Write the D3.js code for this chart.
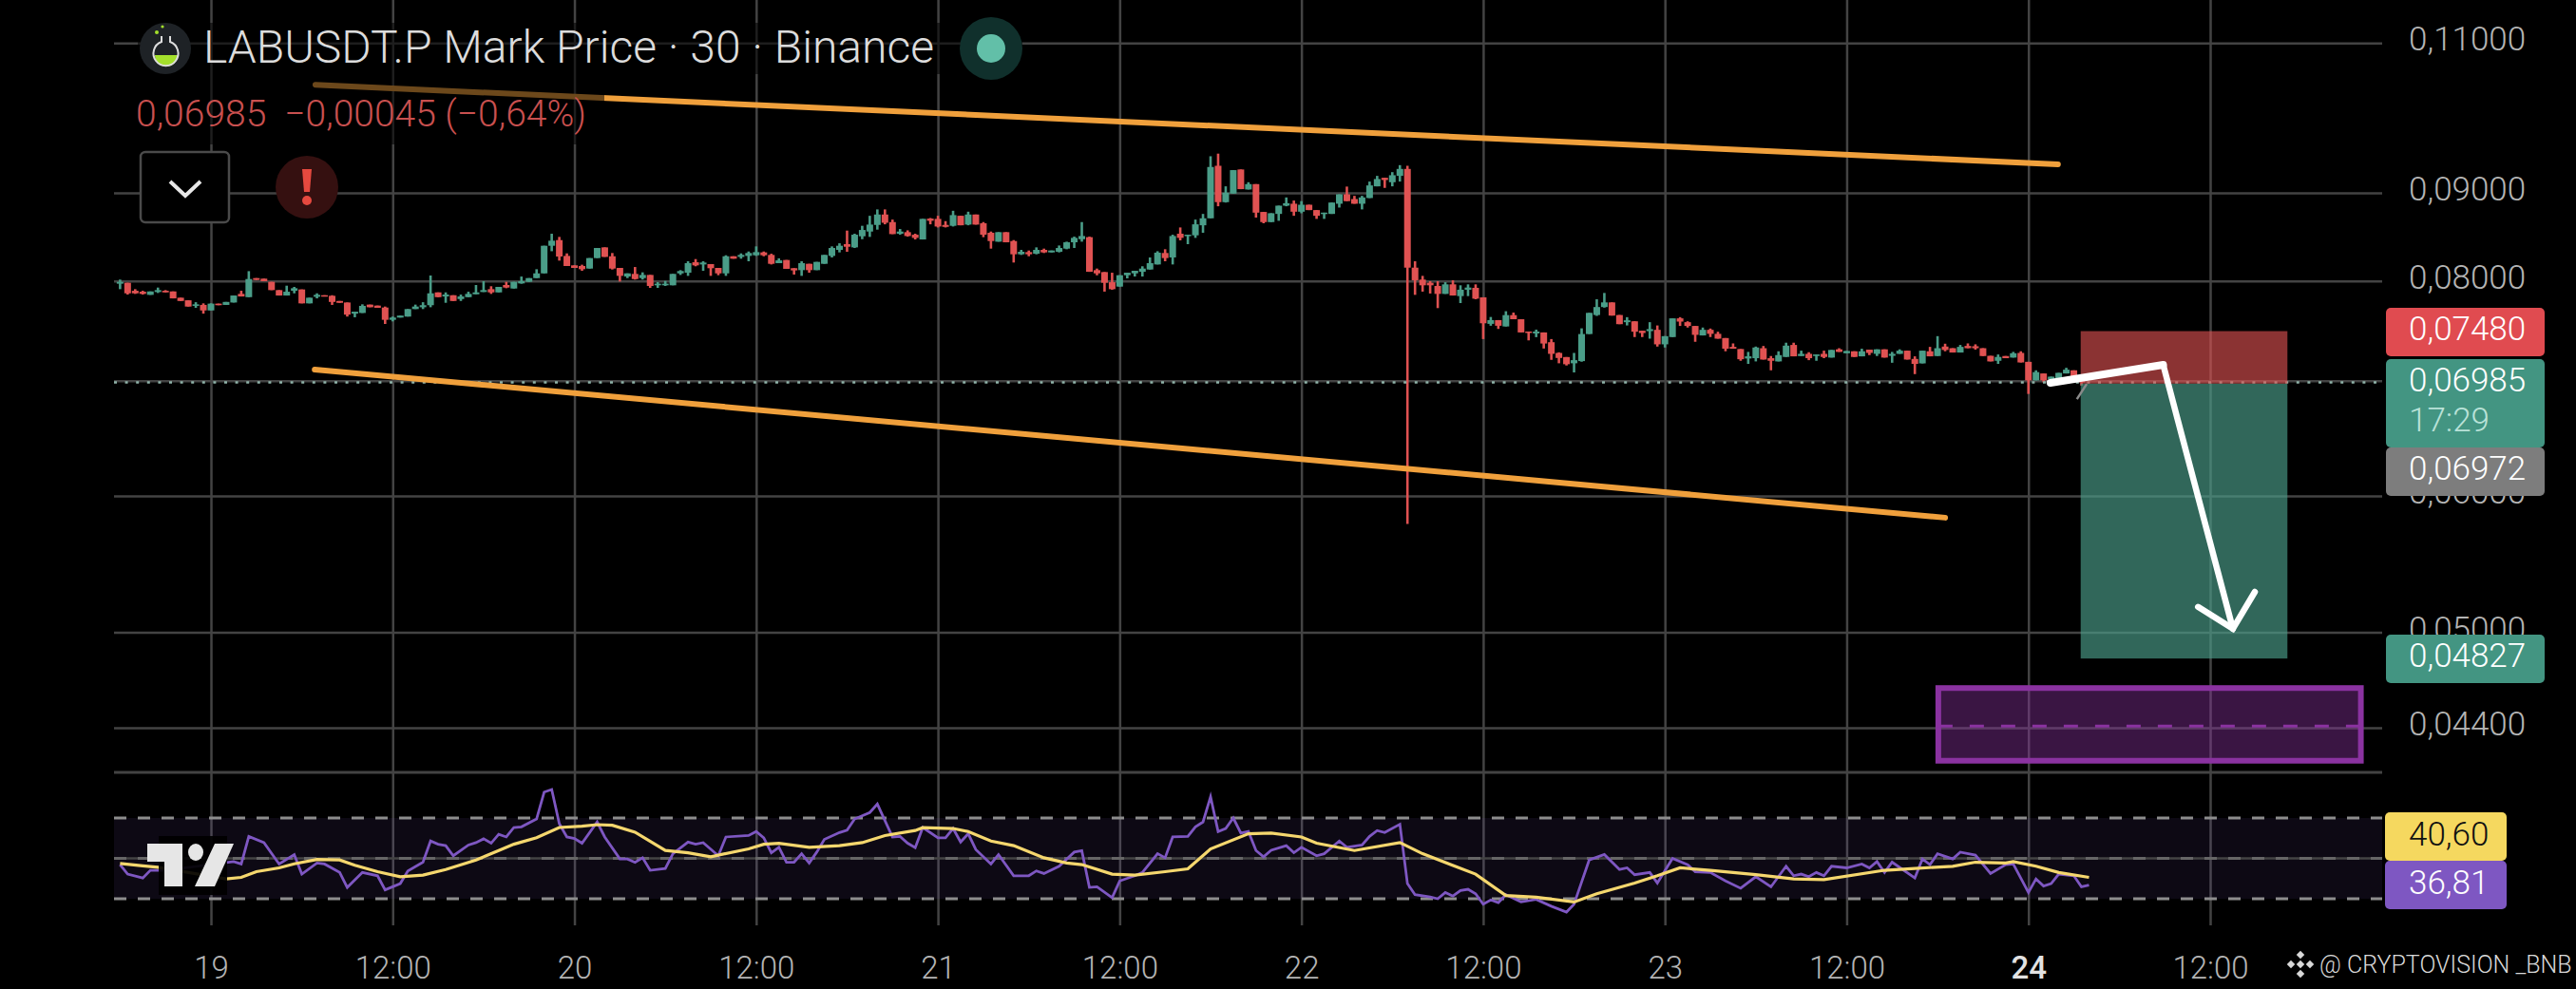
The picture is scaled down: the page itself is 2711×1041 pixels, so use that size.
<!DOCTYPE html>
<html>
<head>
<meta charset="utf-8">
<script src="https://cdn.jsdelivr.net/npm/d3@7"></script>
<style>
  html, body { margin: 0; padding: 0; background: #000; overflow: hidden; }
  svg { display: block; font-family: Roboto, sans-serif; }
</style>
</head>
<body>
<svg width="2711" height="1041"></svg>
<script>
// OHLC of the 30 minute bars, in units of 0.00001 USDT. Bar 0 opens on the 18th at 18:00
var opens = [
  7970,7980,7895,7885,7852,7882,7895,7888,7822,7795, 7737,7747,7690,7760,7747,7772,7862,7828,8030,8024,
  7990,7902,7845,7895,7909,7763,7832,7848,7842,7788, 7772,7657,7664,7750,7740,7720,7594,7617,7627,7704,
  7723,7744,7878,7835,7848,7808,7828,7858,7882,7912, 7878,7956,7919,7973,7990,8030,8081,8385,8449,8272,
  8168,8161,8133,8248,8367,8268,8140,8047,8075,8030, 8064,7953,7953,7953,8081,8088,8202,8178,8182,8140,
  8081,8268,8261,8272,8279,8311,8283,8192,8227,8137, 8116,8185,8116,8185,8272,8339,8403,8367,8492,8546,
  8622,8743,8655,8521,8539,8510,8456,8695,8692,8622, 8612,8728,8626,8743,8641,8532,8431,8539,8438,8290,
  8314,8296,8339,8311,8318,8353,8424,8459,8482,8116, 8095,7986,7939,8061,8081,8098,8123,8178,8304,8255,
  8521,8495,8503,8618,8699,9332,8889,8991,9286,9041, 9106,8773,8655,8750,8847,8870,8776,8858,8795,8750,
  8750,8870,8983,8926,8870,8938,9079,9183,9129,9207, 9293,8143,8014,7980,7946,7862,7963,7839,7906,7926,
  7826,7553,7591,7527,7642,7600,7476,7457,7467,7370, 7265,7225,7165,7186,7451,7643,7725,7773,7643,7570,
  7579,7484,7480,7493,7349,7421,7609,7570,7532,7437, 7493,7453,7411,7324,7303,7211,7214,7311,7214,7183,
  7226,7343,7235,7256,7235,7256,7220,7300,7262,7281, 7232,7297,7256,7300,7237,7256,7287,7207,7164,7281,
  7235,7327,7311,7269,7333,7330,7311,7237,7189,7235, 7220,7265,7179,7003,7068,7015,7023,7068,7098,7044
];
var closes = [
  7990,7868,7868,7862,7888,7902,7878,7815,7788,7730, 7753,7690,7760,7744,7778,7845,7835,8020,8010,7997,
  7902,7845,7885,7922,7763,7822,7852,7835,7778,7769, 7647,7677,7737,7723,7717,7594,7617,7637,7704,7730,
  7744,7868,7828,7855,7788,7835,7862,7878,7902,7878, 7936,7929,7990,7997,8030,8081,8385,8442,8265,8161,
  8140,8126,8248,8360,8261,8133,8054,8081,8020,8064, 7946,7970,7970,8075,8106,8192,8168,8199,8137,8081,
  8268,8241,8283,8304,8314,8279,8185,8223,8130,8113, 8192,8116,8206,8283,8360,8385,8374,8510,8564,8626,
  8743,8647,8517,8546,8495,8474,8692,8670,8604,8600, 8736,8618,8743,8626,8510,8438,8539,8424,8290,8318,
  8290,8339,8311,8332,8360,8424,8474,8495,8098,8081, 7980,7912,8061,8088,8109,8133,8192,8308,8248,8495,
  8474,8510,8629,8699,9317,8889,9002,9278,9045,9106, 8765,8655,8758,8847,8876,8776,8858,8795,8728,8765,
  8884,8983,8901,8870,8945,9090,9168,9156,9215,9293, 8143,8007,7953,7953,7862,7963,7845,7906,7929,7812,
  7559,7591,7534,7642,7600,7467,7464,7476,7357,7256, 7216,7156,7195,7451,7665,7725,7773,7637,7550,7589,
  7474,7461,7500,7349,7430,7609,7576,7532,7443,7493, 7453,7405,7306,7306,7204,7232,7318,7201,7189,7244,
  7336,7232,7256,7214,7250,7226,7294,7275,7284,7226, 7281,7265,7300,7220,7256,7287,7201,7159,7287,7232,
  7311,7294,7269,7324,7311,7311,7235,7183,7226,7214, 7262,7173,7003,7081,7003,7038,7074,7104,7038,6985
];
var highs = [
  8014,7980,7912,7895,7888,7929,7902,7888,7822,7795, 7775,7763,7763,7760,7778,7845,7895,8105,8030,8024,
  7990,7902,7949,7936,7909,7822,7868,7848,7848,7788, 7772,7677,7753,7750,7740,7730,7627,7637,7704,7750,
  7775,8058,7878,7878,7848,7855,7885,7956,7997,7943, 7936,7990,7990,8047,8030,8126,8385,8521,8485,8300,
  8168,8175,8248,8360,8367,8304,8140,8081,8150,8092, 8064,7987,8000,8075,8116,8213,8237,8213,8182,8140,
  8279,8268,8300,8321,8378,8321,8296,8245,8227,8137, 8213,8185,8206,8283,8378,8413,8557,8521,8612,8728,
  8803,8803,8684,8575,8560,8521,8692,8702,8728,8666, 8787,8728,8776,8743,8655,8546,8539,8539,8449,8339,
  8332,8367,8353,8332,8388,8431,8488,8655,8488,8133, 8095,8088,8061,8088,8109,8158,8255,8324,8346,8510,
  8593,8510,8684,8750,9452,9485,9079,9278,9286,9129, 9106,8773,8758,8847,8945,8908,8901,8858,8795,8765,
  8884,8983,9076,8964,8964,9137,9207,9183,9253,9340, 9332,8213,8054,7997,7997,7986,8007,7953,7963,7963,
  7826,7623,7591,7682,7668,7600,7476,7495,7467,7401, 7271,7225,7265,7508,7665,7806,7872,7773,7643,7621,
  7579,7484,7570,7537,7430,7609,7621,7579,7532,7516, 7506,7474,7411,7358,7303,7275,7327,7333,7235,7281,
  7365,7365,7287,7272,7250,7287,7294,7311,7284,7281, 7306,7297,7300,7300,7275,7300,7287,7232,7287,7324,
  7430,7355,7311,7343,7358,7349,7311,7237,7250,7235, 7275,7281,7179,7098,7068,7038,7074,7122,7098,7044
];
var lows = [
  7912,7855,7862,7855,7852,7872,7878,7815,7788,7730, 7717,7657,7690,7744,7747,7772,7835,7828,8010,7997,
  7902,7845,7845,7868,7763,7763,7815,7835,7747,7769, 7627,7620,7664,7723,7717,7552,7578,7617,7627,7704,
  7704,7723,7828,7769,7788,7788,7828,7858,7882,7862, 7878,7922,7919,7970,7990,8030,8081,8324,8220,8161,
  8140,8109,8133,8248,8261,8123,7993,8030,8014,8014, 7926,7926,7946,7953,8064,8054,8158,8109,8054,8061,
  8054,8241,8241,8213,8272,8268,8178,8192,8130,8068, 8054,8088,8116,8185,8255,8311,8318,8360,8459,8485,
  8568,8629,8517,8510,8488,8456,8456,8629,8593,8593, 8604,8618,8618,8626,8482,8353,8431,8424,8199,8283,
  8268,8290,8304,8311,8311,8346,8360,8431,8098,8060, 7886,7906,7939,8027,8047,8047,8123,8178,8213,8178,
  8446,8403,8474,8532,8699,8840,8884,8991,9045,9041, 8707,8641,8655,8670,8840,8728,8758,8795,8692,8692,
  8750,8825,8901,8870,8803,8938,9079,9060,9079,9137, 5780,7852,7886,7866,7714,7862,7845,7766,7839,7806,
  7401,7534,7502,7527,7600,7467,7388,7420,7308,7198, 7165,7144,7078,7180,7451,7634,7719,7637,7550,7537,
  7421,7421,7405,7327,7318,7421,7532,7516,7374,7437, 7421,7405,7281,7306,7189,7159,7183,7201,7098,7183,
  7226,7232,7235,7195,7189,7214,7220,7275,7262,7226, 7232,7244,7235,7220,7170,7256,7201,7062,7164,7232,
  7235,7281,7269,7269,7311,7297,7235,7183,7159,7214, 7220,7173,6877,7003,6985,7015,7023,7068,7038,6955
];

// RSI line and its moving average, read at their turning points
var rsiBars = [0,1,3,4,6,15,16,17,19,21,23,24,26,27,29,30,32,34,35,37,38,40,41,42,43,44,46,47,48,49,50,51,52,53,55,56,57,58,59,60,61,63,64,66,67,68,69,70,72,73,75,76,77,79,80,83,84,85,86,87,88,89,90,91,92,93,95,96,97,99,100,102,103,104,105,106,108,109,110,111,112,113,115,116,118,120,121,122,124,126,127,128,129,131,132,134,135,137,138,139,141,142,143,144,145,146,147,148,149,150,151,152,154,155,156,158,159,161,162,164,165,166,167,169,170,171,173,174,175,176,177,178,179,180,181,182,183,185,187,189,191,192,193,194,196,198,199,200,202,203,205,207,208,210,212,214,216,218,220,221,222,223,224,225,226,228,230,231,232,233,234,237,238,239,240,242,243,245,247,249,250,252,253,254,255,256,258,259,260];
var rsiValues = [46.9,42.2,40.3,44.1,44.1,48.4,47.2,60.9,57.8,47.2,51.9,42.2,47.7,47.2,43,35.6,43,41.4,34.4,37.5,43.8,48.1,58.6,57,56.3,51.3,56.6,57.8,59.7,57.5,61.9,60.6,65.3,65.6,69.5,82.8,84.1,67.2,60.6,59.8,57.5,68,60.6,49.7,49.7,48,50.3,44.1,45,52.3,58.1,57,57.8,51.3,60.6,61.3,63.3,60.2,52.8,55.5,48.1,48.1,52.3,47.7,53.1,59.4,62.8,64,69.5,72.7,76.9,60.6,60.9,57.5,55.3,65.3,60.2,60.2,64.8,58.1,62.2,54.4,47.2,51.9,41.4,41.4,43.8,42.5,46.1,53.1,53.8,35.6,35.9,30.5,38.8,41.4,43,52.3,50.3,60.6,60.9,65.6,68,80.5,63.3,64.8,70,62.5,63.3,53.9,50.8,54,56.3,52.8,55.5,51.3,52.3,58.6,55.5,56.6,60.9,63.8,62.8,66.9,37.5,32,30.9,30,33.1,31.3,34.1,34.7,32.5,27.3,29.4,28.1,32,28.4,29.7,26.3,23.4,27.3,38.3,49.2,51.9,44.5,45.3,41.9,43,37.8,50,46.9,43.4,43,38.8,35.2,40.9,35.9,46.1,41.4,42.2,40.9,43,41.4,46.1,45.3,47.2,45.3,48.4,43,48.1,40.3,49.7,46.9,52.3,49.7,53.1,51.6,42.5,46.9,47.2,33.1,39.8,36.3,37.5,42.2,41.4,35.9,36.81];
var maBars = [0,3,5,14,16,18,21,23,26,29,31,34,37,40,43,47,50,52,55,58,61,63,65,68,72,75,78,83,85,87,91,95,98,101,105,106,110,112,115,118,122,125,127,131,134,138,141,144,149,152,156,158,163,169,172,179,183,187,192,195,200,203,206,210,216,221,225,233,237,242,245,249,250,253,256,260];
var maValues = [47.5,46.3,45.6,39.8,40.6,43.4,45.3,47.3,49.5,49.2,46.6,43.4,40.9,41.7,44.5,49.2,53.9,57,60.2,65.3,65.9,66.7,66.4,63,53.9,52.8,50.8,54.7,57,57.5,55.5,56.3,57.8,61.3,63.8,65.2,64.8,63.3,58.6,56.3,50.3,47.7,46.9,42.2,41.7,43.4,44.8,54.7,62.2,62.5,60.6,57.5,53.9,57.8,52.3,42.2,31.6,30.8,28.4,32.5,37.8,41.4,45.3,44.1,41.9,39.8,39.5,44.1,45,46.1,48.1,47.7,48.4,46.1,43,40.6];

// Axes
var priceTicks = [0.11, 0.09, 0.08, 0.07, 0.06, 0.05, 0.044];
var rsiLevels = [70, 50, 30];
var timeTickBars = [12, 36, 60, 84, 108, 132, 156, 180, 204, 228, 252, 276];
var timeTickLabels = ["19", "12:00", "20", "12:00", "21", "12:00", "22", "12:00", "23", "12:00", "24", "12:00"];

// Drawings on the chart, bar number then price
var upperTrendBars = [25.8, 255.9];
var upperTrendPrices = [0.1040, 0.0935];
var lowerTrendBars = [25.7, 241];
var lowerTrendPrices = [0.07105, 0.05828];
var arrowLeadBars = [254.9, 269.8];
var arrowLeadPrices = [0.0698, 0.0715];
var arrowBars = [269.8, 279];
var arrowPrices = [0.0715, 0.05023];
var arrowHeadBars = [274.4, 279, 281.9];
var arrowHeadPrices = [0.05172, 0.05023, 0.05277];
var tickMarkBars = [258.4, 259.7];
var tickMarkPrices = [0.0683, 0.0697];
var positionBars = [258.9, 286.2];
var stopPrice = 0.0748;
var entryPrice = 0.06972;
var targetPrice = 0.04827;
var zoneBars = [240.1, 295.9];
var zonePrices = [0.0464, 0.0421];
var zoneMidPrice = 0.0441;
var lastPrice = 0.06985;

var GREEN = "#4a9d88", RED = "#e05252", GRID = "#434343", LABEL = "#b4b4b4";
var plotLeft = 120, plotRight = 2507, plotBottom = 813, gridBottom = 974;

var svg = d3.select("svg");
svg.append("rect").attr("width", 2711).attr("height", 1041).attr("fill", "#000");

var x = d3.scaleLinear().domain([12, 276]).range([222, 2326]);
var y = d3.scaleLog().domain([0.09, 0.044]).range([203, 766]);
var yRsi = d3.scaleLinear().domain([70, 30]).range([861, 946]);

var comma = d3.formatLocale({ decimal: ",", thousands: ".", grouping: [3], currency: ["", ""] });
var priceFormat = comma.format(".5f");

// Vertical grid and time labels
var xAxis = svg.append("g")
    .attr("transform", "translate(0," + gridBottom + ")")
    .call(d3.axisBottom(x)
        .tickValues(timeTickBars)
        .tickSize(-gridBottom)
        .tickPadding(33)
        .tickFormat(function(d, i) { return timeTickLabels[i]; }));
xAxis.select(".domain").remove();
xAxis.selectAll("line").attr("stroke", GRID).attr("stroke-width", 2.5);
xAxis.selectAll("text")
    .attr("fill", LABEL)
    .attr("font-size", 33)
    .attr("font-weight", 300)
    .attr("font-family", "Roboto, sans-serif");
xAxis.selectAll("text").filter(function(d, i) { return timeTickLabels[i] == "24"; })
    .attr("fill", "#e2e2e2")
    .attr("font-weight", 500);

// Horizontal grid and price labels
var yAxis = svg.append("g")
    .attr("transform", "translate(" + plotRight + ",0)")
    .call(d3.axisRight(y)
        .tickValues(priceTicks)
        .tickSize(-(plotRight - plotLeft))
        .tickPadding(28)
        .tickFormat(priceFormat));
yAxis.select(".domain").remove();
yAxis.selectAll("line").attr("stroke", GRID).attr("stroke-width", 2.5);
yAxis.selectAll("text")
    .attr("fill", LABEL)
    .attr("font-size", 35)
    .attr("font-weight", 300)
    .attr("font-family", "Roboto, sans-serif")
    .attr("dy", "0.22em");

svg.append("line")
    .attr("x1", plotLeft).attr("x2", plotRight)
    .attr("y1", plotBottom).attr("y2", plotBottom)
    .attr("stroke", GRID).attr("stroke-width", 3);

// Candles
var bars = d3.range(opens.length);
var candles = svg.append("g").selectAll("g").data(bars).enter().append("g");
candles.append("line")
    .attr("x1", function(i) { return x(i); })
    .attr("x2", function(i) { return x(i); })
    .attr("y1", function(i) { return y(highs[i] / 1e5); })
    .attr("y2", function(i) { return y(lows[i] / 1e5); })
    .attr("stroke", function(i) { return closes[i] >= opens[i] ? GREEN : RED; })
    .attr("stroke-width", 2.6);
candles.append("rect")
    .attr("x", function(i) { return x(i) - 3.5; })
    .attr("width", 7)
    .attr("y", function(i) { return y(Math.max(opens[i], closes[i]) / 1e5); })
    .attr("height", function(i) { return Math.max(1.5, Math.abs(y(opens[i] / 1e5) - y(closes[i] / 1e5))); })
    .attr("fill", function(i) { return closes[i] >= opens[i] ? GREEN : RED; });

// Last price line
svg.append("line")
    .attr("x1", plotLeft).attr("x2", plotRight)
    .attr("y1", y(lastPrice)).attr("y2", y(lastPrice))
    .attr("stroke", "#8fb3a9").attr("stroke-width", 2.5)
    .attr("stroke-dasharray", "3 8.6");

// Trend lines
var trendLine = d3.line()
    .x(function(d) { return x(d[0]); })
    .y(function(d) { return y(d[1]); });
[[upperTrendBars, upperTrendPrices], [lowerTrendBars, lowerTrendPrices]].forEach(function(t) {
    svg.append("path")
        .attr("d", trendLine(d3.zip(t[0], t[1])))
        .attr("fill", "none")
        .attr("stroke", "#f0a03c")
        .attr("stroke-width", 6)
        .attr("stroke-linecap", "round");
});

// Short position box
svg.append("rect")
    .attr("x", x(positionBars[0])).attr("width", x(positionBars[1]) - x(positionBars[0]))
    .attr("y", y(stopPrice)).attr("height", y(entryPrice) - y(stopPrice))
    .attr("fill", RED).attr("fill-opacity", 0.62);
svg.append("rect")
    .attr("x", x(positionBars[0])).attr("width", x(positionBars[1]) - x(positionBars[0]))
    .attr("y", y(entryPrice)).attr("height", y(targetPrice) - y(entryPrice))
    .attr("fill", GREEN).attr("fill-opacity", 0.66);
svg.append("path")
    .attr("d", trendLine(d3.zip(tickMarkBars, tickMarkPrices)))
    .attr("fill", "none").attr("stroke", "#8a8a8a").attr("stroke-width", 2.5);

// Purple zone
svg.append("rect")
    .attr("x", x(zoneBars[0])).attr("width", x(zoneBars[1]) - x(zoneBars[0]))
    .attr("y", y(zonePrices[0])).attr("height", y(zonePrices[1]) - y(zonePrices[0]))
    .attr("fill", "#8a32a0").attr("fill-opacity", 0.42)
    .attr("stroke", "#8a32a0").attr("stroke-width", 6);
svg.append("line")
    .attr("x1", x(zoneBars[0])).attr("x2", x(zoneBars[1]))
    .attr("y1", y(zoneMidPrice)).attr("y2", y(zoneMidPrice))
    .attr("stroke", "#8a32a0").attr("stroke-width", 3)
    .attr("stroke-dasharray", "15 18");

// Hand drawn arrow
svg.append("path")
    .attr("d", trendLine(d3.zip(arrowLeadBars, arrowLeadPrices)))
    .attr("fill", "none").attr("stroke", "#fff").attr("stroke-width", 8)
    .attr("stroke-linecap", "round");
svg.append("path")
    .attr("d", trendLine(d3.zip(arrowBars, arrowPrices)))
    .attr("fill", "none").attr("stroke", "#fff").attr("stroke-width", 6.5)
    .attr("stroke-linecap", "round");
svg.append("path")
    .attr("d", trendLine(d3.zip(arrowHeadBars, arrowHeadPrices)))
    .attr("fill", "none").attr("stroke", "#fff").attr("stroke-width", 6.5)
    .attr("stroke-linecap", "round");

// RSI pane
svg.append("rect")
    .attr("x", plotLeft).attr("width", plotRight - plotLeft)
    .attr("y", yRsi(70)).attr("height", yRsi(30) - yRsi(70))
    .attr("fill", "#7e57c2").attr("fill-opacity", 0.1);
svg.append("line")
    .attr("x1", plotLeft).attr("x2", plotRight)
    .attr("y1", yRsi(50)).attr("y2", yRsi(50))
    .attr("stroke", GRID).attr("stroke-width", 2.5);
svg.append("g").selectAll("line").data(rsiLevels).enter().append("line")
    .attr("x1", plotLeft).attr("x2", plotRight)
    .attr("y1", function(d) { return yRsi(d); })
    .attr("y2", function(d) { return yRsi(d); })
    .attr("stroke", function(d) { return d == 50 ? "#666" : "#8d8d8d"; })
    .attr("stroke-width", 3)
    .attr("stroke-dasharray", "13 12");

var rsiLine = d3.line()
    .x(function(d) { return x(d[0]); })
    .y(function(d) { return yRsi(d[1]); });
svg.append("path")
    .attr("d", rsiLine(d3.zip(rsiBars, rsiValues)))
    .attr("fill", "none").attr("stroke", "#7e57c2").attr("stroke-width", 2.8);
svg.append("path")
    .attr("d", rsiLine(d3.zip(maBars, maValues)))
    .attr("fill", "none").attr("stroke", "#f5d76e").attr("stroke-width", 3.2);

// TradingView logo
var logo = svg.append("g");
logo.append("rect").attr("x", 167).attr("y", 880).attr("width", 72).attr("height", 62).attr("fill", "#000").attr("fill-opacity", 0.92);
logo.append("path").attr("d", "M155 888H192V933H173V907H155Z").attr("fill", "#e6e6e6");
logo.append("ellipse").attr("cx", 206).attr("cy", 897).attr("rx", 8).attr("ry", 9).attr("fill", "#e6e6e6");
logo.append("path").attr("d", "M226 888H246L226 933H205Z").attr("fill", "#e6e6e6");

// Legend backdrop dims what runs behind the texts
svg.append("rect").attr("x", 145).attr("y", 24).attr("width", 491).attr("height", 128).attr("fill", "#000").attr("fill-opacity", 0.55);
svg.append("rect").attr("x", 636).attr("y", 24).attr("width", 440).attr("height", 54).attr("fill", "#000").attr("fill-opacity", 0.55);

// Symbol icon
svg.append("circle").attr("cx", 174).attr("cy", 51).attr("r", 27).attr("fill", "#1e2226");
svg.append("path").attr("d", "M163 58a12 12 0 0 0 24 0Z").attr("fill", "#a4e02c");
svg.append("path").attr("d", "M170 38v6a13 13 0 1 0 9 0v-6")
    .attr("fill", "none").attr("stroke", "#ddd").attr("stroke-width", 2);
svg.append("circle").attr("cx", 165).attr("cy", 34).attr("r", 2).attr("fill", "#a4e02c");
svg.append("circle").attr("cx", 171).attr("cy", 28).attr("r", 1.6).attr("fill", "#a4e02c");

svg.append("text").attr("x", 214).attr("y", 66)
    .attr("font-size", 48).attr("font-weight", 300).attr("fill", "#dcdcdc")
    .text("LABUSDT.P Mark Price · 30 · Binance");
svg.append("text").attr("x", 143).attr("y", 133)
    .attr("font-size", 39).attr("font-weight", 300).attr("fill", "#c9504f")
    .attr("xml:space", "preserve")
    .text("0,06985  −0,00045 (−0,64%)");

// Market status dot
svg.append("circle").attr("cx", 1043).attr("cy", 51).attr("r", 33).attr("fill", "#10302c");
svg.append("circle").attr("cx", 1043).attr("cy", 51).attr("r", 15).attr("fill", "#62bfa8");

// Collapse button and warning
svg.append("rect").attr("x", 148).attr("y", 160).attr("width", 93).attr("height", 74).attr("rx", 5)
    .attr("fill", "#000").attr("stroke", "#4a4a4a").attr("stroke-width", 2.5);
svg.append("path").attr("d", "M179 191L195 206L211 191")
    .attr("fill", "none").attr("stroke", "#e8e8e8").attr("stroke-width", 4);
svg.append("circle").attr("cx", 323).attr("cy", 197).attr("r", 33).attr("fill", "#351010");
svg.append("path").attr("d", "M318 178h10l-2 24h-6Z").attr("fill", "#e5493f");
svg.append("circle").attr("cx", 323).attr("cy", 211).attr("r", 5).attr("fill", "#e5493f");

// Tags on the price scale
var tagLabels = ["0,07480", "0,06985", "0,06972", "0,04827"];
var tagTops = [324, 378, 471, 668];
var tagBottoms = [375, 471, 522, 719];
var tagColors = ["#e04b50", "#439582", "#7d7d7d", "#439582"];
var tagBaselines = [358, 412, 505, 702];
var tags = svg.append("g").selectAll("g").data(tagLabels).enter().append("g");
tags.append("rect")
    .attr("x", 2511).attr("width", 167).attr("rx", 5)
    .attr("y", function(d, i) { return tagTops[i]; })
    .attr("height", function(d, i) { return tagBottoms[i] - tagTops[i]; })
    .attr("fill", function(d, i) { return tagColors[i]; });
tags.append("text")
    .attr("x", 2535)
    .attr("y", function(d, i) { return tagBaselines[i]; })
    .attr("font-size", 35).attr("font-weight", 300).attr("fill", "#fff")
    .text(function(d) { return d; });
svg.append("text").attr("x", 2535).attr("y", 454)
    .attr("font-size", 35).attr("font-weight", 300).attr("fill", "#b9e2d8")
    .text("17:29");

// RSI tags
var rsiTagLabels = ["40,60", "36,81"];
var rsiTagTops = [855, 906];
var rsiTagColors = ["#f5d85f", "#7e57c2"];
var rsiTagText = ["#111", "#fff"];
var rsiTags = svg.append("g").selectAll("g").data(rsiTagLabels).enter().append("g");
rsiTags.append("rect")
    .attr("x", 2510).attr("width", 128).attr("height", 51).attr("rx", 5)
    .attr("y", function(d, i) { return rsiTagTops[i]; })
    .attr("fill", function(d, i) { return rsiTagColors[i]; });
rsiTags.append("text")
    .attr("x", 2535)
    .attr("y", function(d, i) { return rsiTagTops[i] + 35; })
    .attr("font-size", 35).attr("font-weight", 300)
    .attr("fill", function(d, i) { return rsiTagText[i]; })
    .text(function(d) { return d; });

// Watermark
var mark = svg.append("g").attr("fill", "#d8d8d8");
[[0, -10], [-10, 0], [10, 0], [0, 10], [0, 0]].forEach(function(p) {
    mark.append("rect")
        .attr("x", -3).attr("y", -3).attr("width", 6).attr("height", 6)
        .attr("transform", "translate(" + (2421 + p[0]) + "," + (1015 + p[1]) + ") rotate(45)");
});
svg.append("text").attr("x", 2441).attr("y", 1024)
    .attr("font-size", 25).attr("font-weight", 300).attr("fill", "#d8d8d8")
    .text("@ CRYPTOVISION _BNB");
</script>
</body>
</html>
